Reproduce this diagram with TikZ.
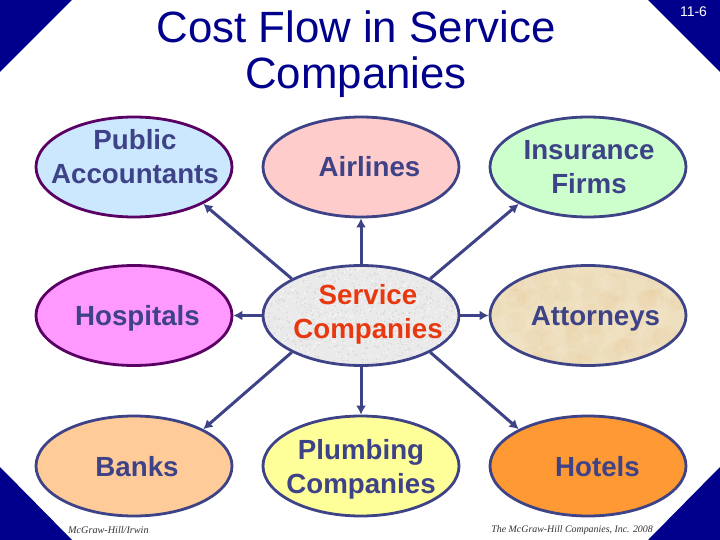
\documentclass[tikz,border=0pt]{standalone}
\usepackage{fontspec}
\setmainfont{Liberation Sans}
\newfontfamily\serifit{Liberation Serif}
\usetikzlibrary{shapes.geometric,arrows.meta}
\definecolor{navy}{RGB}{0,0,140}
\definecolor{inkb}{RGB}{62,66,135}
\definecolor{purp}{RGB}{90,0,100}
\definecolor{orred}{RGB}{232,56,16}
\tikzset{
  blob/.style={ellipse,draw=inkb,line width=2.8pt,minimum width=196pt,minimum height=100pt,inner sep=0pt},
  purpleblob/.style={blob,draw=purp},
  word/.style={anchor=base,inner sep=0pt,align=center,text=inkb,font=\fontsize{27.7}{34}\selectfont\bfseries},
  link/.style={draw=inkb,line width=3pt,-{Latex[length=9pt,width=10pt]}},
  corner/.style={fill=navy,draw=none},
  foot/.style={inner sep=0pt,text=black!80}
}
\begin{document}
\begin{tikzpicture}[x=1pt,y=-1pt]
\useasboundingbox (0,0) rectangle (720,540);
\fill[white] (0,0) rectangle (720,540);
\fill[corner] (0,0) -- (72,0) -- (0,72) -- cycle;
\fill[corner] (720,0) -- (648,0) -- (720,72) -- cycle;
\fill[corner] (0,467) -- (72,540) -- (0,540) -- cycle;
\fill[corner] (720,467) -- (648,540) -- (720,540) -- cycle;
\node[text=navy,align=center,font=\fontsize{43.8}{46}\selectfont,inner sep=0pt] (title) at (356,54) {Cost Flow in Service\\Companies};
\node[font=\fontsize{14}{16}\selectfont,text=white,inner sep=0pt] (num) at (693.5,12) {11-6};
\node[purpleblob,fill={rgb,255:red,204;green,232;blue,255}] (pa) at (134,167) {};
\node[blob,fill={rgb,255:red,255;green,204;blue,204}] (air) at (361,167) {};
\node[blob,fill={rgb,255:red,204;green,255;blue,204}] (ins) at (588,167) {};
\node[purpleblob,fill={rgb,255:red,255;green,153;blue,255}] (hos) at (134,315.5) {};
\node[blob,fill={rgb,255:red,234;green,234;blue,234}] (svc) at (361,315.5) {};
\node[blob,fill={rgb,255:red,238;green,224;blue,190}] (att) at (588,315.5) {};
\node[blob,fill={rgb,255:red,255;green,204;blue,153}] (bank) at (134,466) {};
\node[blob,fill={rgb,255:red,255;green,255;blue,153}] (plumb) at (361,466) {};
\node[blob,fill={rgb,255:red,255;green,153;blue,51}] (hot) at (588,466) {};
% mottled surfaces of the two textured ellipses
\pgfmathsetseed{7}
\begin{scope}
\clip (361,315.5) ellipse [x radius=96.5,y radius=48.5];
\foreach \i in {1,...,700}{\fill[black!16] ({361+98*rand},{315.5+50*rand}) circle (0.8);}
\foreach \i in {1,...,500}{\fill[white,opacity=0.8] ({361+98*rand},{315.5+50*rand}) circle (0.8);}
\end{scope}
\begin{scope}
\clip (588,315.5) ellipse [x radius=96.5,y radius=48.5];
\foreach \i in {1,...,70}{\fill[brown!70!orange,opacity=0.03] ({588+98*rand},{315.5+50*rand}) circle (10);}
\foreach \i in {1,...,70}{\fill[white,opacity=0.06] ({588+98*rand},{315.5+50*rand}) circle (8);}
\end{scope}
\path[link] (svc.152) -- (pa.-28);
\path[link] (svc.north) -- (air.south);
\path[link] (svc.28) -- (ins.208);
\path[link] (svc.west) -- (hos.east);
\path[link] (svc.east) -- (att.west);
\path[link] (svc.208) -- (bank.28);
\path[link] (svc.south) -- (plumb.north);
\path[link] (svc.-28) -- (hot.152);
\node[word] (paT) at (135,184) {Public\\Accountants};
\node[word] (airT) at (369.5,177) {Airlines};
\node[word] (insT) at (589,194) {Insurance\\Firms};
\node[word] (hosT) at (137.5,325) {Hospitals};
\node[word,text=orred] (svcT) at (368,338) {Service\\Companies};
\node[word] (attT) at (595.5,325) {Attorneys};
\node[word] (bankT) at (137,476) {Banks};
\node[word] (plumbT) at (361,493) {Plumbing\\Companies};
\node[word] (hotT) at (597.5,476) {Hotels};
\node[foot,font=\fontsize{10.2}{12}\selectfont\serifit\itshape,anchor=west] (mh) at (68,530) {McGraw-Hill/Irwin};
\node[foot,font=\fontsize{9.9}{12}\selectfont\serifit\itshape,anchor=east] (cr) at (653,530.5) {The McGraw-Hill Companies, Inc. 2008};
\end{tikzpicture}
\end{document}
